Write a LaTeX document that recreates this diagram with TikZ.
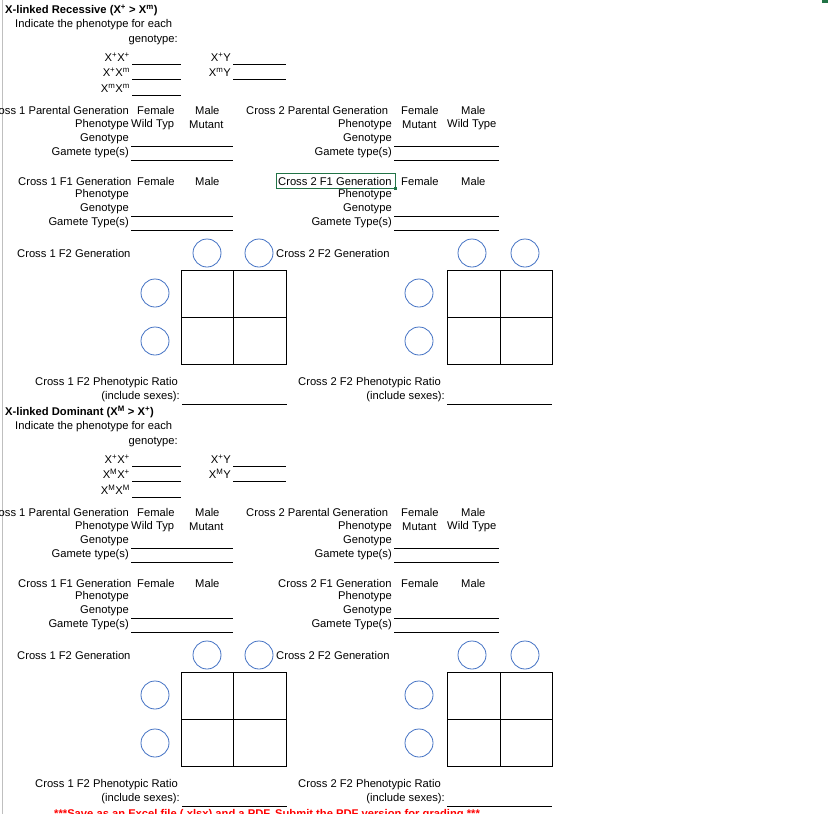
\documentclass[tikz,border=0pt]{standalone}
\usepackage{fontspec}
\setmainfont{Liberation Sans}
\definecolor{cblue}{RGB}{68,114,196}
\definecolor{xlgreen}{RGB}{33,115,70}
\begin{document}
\begin{tikzpicture}[x=1pt,y=-1pt,font=\fontsize{11.2}{13}\selectfont,
  every node/.style={inner sep=0pt},
  L/.style={anchor=west},R/.style={anchor=east},
  blank/.style={line width=0.6pt},
  circ/.style={draw=cblue,line width=0.8pt,circle,minimum size=28pt},
  grid/.style={draw,line width=0.7pt}]
\clip (0,0) rectangle (828,814);
\useasboundingbox (0,0) rectangle (828,814);
\fill[white] (0,0) rectangle (828,814);
\draw[gray!50] (2,0) -- (2,814);
\fill[xlgreen] (822,0) rectangle (828,3);
\newcommand\sps[1]{\textsuperscript{#1}}
\newcommand\wsec[4]{%
\begin{scope}[yshift=-#1pt]
\node[L,font=\fontsize{11.2}{13}\selectfont\bfseries] at (5,10) {#2};
\node[L] at (15,25) {Indicate the phenotype for each};
\node[R] at (178,40) {genotype:};
\node[R] at (130,57) {#3};
\node[R] at (130,72) {#4};
\node[R] at (130,88) {\ifnum#1=0 X\sps{m}X\sps{m}\else X\sps{M}X\sps{M}\fi};
\draw[blank] (132,64) -- (181,64) (132,79) -- (181,79) (132,95) -- (181,95);
\node[R] at (231,57) {X\sps{+}Y};
\node[R] at (231,72) {\ifnum#1=0 X\sps{m}Y\else X\sps{M}Y\fi};
\draw[blank] (233,64) -- (286,64) (233,79) -- (286,79);
\node[R] at (129,110) {oss 1 Parental Generation};
\node[L] at (137,110) {Female}; \node[L] at (195,110) {Male};
\node[R] at (129,125) {Phenotype}; \node[L] at (131,125) {Wild Typ}; \node[L] at (189,125) {Mutant};
\node[R] at (129,139) {Genotype}; \node[R] at (129,153) {Gamete type(s)};
\draw[blank] (131,146) -- (233,146) (131,160) -- (233,160);
\node[L] at (246,110) {Cross 2 Parental Generation};
\node[L] at (401,110) {Female}; \node[L] at (461,110) {Male};
\node[R] at (392,125) {Phenotype}; \node[L] at (402,125) {Mutant}; \node[L] at (447,125) {Wild Type};
\node[R] at (392,139) {Genotype}; \node[R] at (392,153) {Gamete type(s)};
\draw[blank] (394,146) -- (499,146) (394,160) -- (499,160);
\node[L] at (18,181) {Cross 1 F1 Generation};
\node[L] at (137,181) {Female}; \node[L] at (195,181) {Male};
\node[R] at (129,195) {Phenotype}; \node[R] at (129,209) {Genotype}; \node[R] at (129,223) {Gamete Type(s)};
\draw[blank] (131,216) -- (233,216) (131,230) -- (233,230);
\node[L] at (278,181) {Cross 2 F1 Generation};
\node[L] at (401,181) {Female}; \node[L] at (461,181) {Male};
\node[R] at (392,195) {Phenotype}; \node[R] at (392,209) {Genotype}; \node[R] at (392,223) {Gamete Type(s)};
\draw[blank] (394,216) -- (499,216) (394,230) -- (499,230);
\node[L] at (17,253) {Cross 1 F2 Generation};
\node[L] at (276,253) {Cross 2 F2 Generation};
\node[circ] at (207,253) {}; \node[circ] at (259,253) {};
\node[circ] at (472,253) {}; \node[circ] at (525,253) {};
\node[circ] at (155,293) {}; \node[circ] at (155,341) {};
\node[circ] at (419,293) {}; \node[circ] at (419,341) {};
\draw[grid] (181,270) rectangle (286,364) (233,270) -- (233,364) (181,317) -- (286,317);
\draw[grid] (447,270) rectangle (552,364) (500,270) -- (500,364) (447,317) -- (552,317);
\node[L] at (35,383) {Cross 1 F2 Phenotypic Ratio};
\node[R] at (180,397) {(include sexes):};
\draw[blank] (182,404) -- (287,404);
\node[L] at (298,383) {Cross 2 F2 Phenotypic Ratio};
\node[R] at (445,397) {(include sexes):};
\draw[blank] (447,404) -- (552,404);
\end{scope}}
\wsec{0}{X-linked Recessive (X\sps{+} > X\sps{m})}{X\sps{+}X\sps{+}}{X\sps{+}X\sps{m}}
\draw[xlgreen,line width=1pt] (276,173) rectangle (395,188);
\fill[xlgreen] (393.5,186.5) rectangle (397,190);
\wsec{402}{X-linked Dominant (X\sps{M} > X\sps{+})}{X\sps{+}X\sps{+}}{X\sps{M}X\sps{+}}
\node[L,text=red,font=\fontsize{11.2}{13}\selectfont\bfseries] at (54,815) {***Save as an Excel file (.xlsx) and a PDF. Submit the PDF version for grading.***};
\end{tikzpicture}
\end{document}
